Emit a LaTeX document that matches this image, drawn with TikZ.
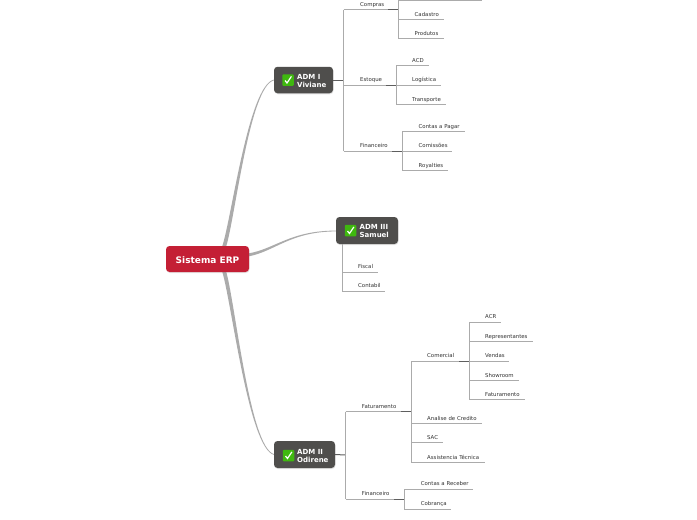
\documentclass[tikz,border=0pt]{standalone}
\usepackage{fontspec}
\setmainfont{DejaVu Sans}
\usetikzlibrary{shadows,calc}
\definecolor{rootred}{HTML}{C41F35}
\definecolor{admgray}{HTML}{4F4E4C}
\definecolor{branchgray}{HTML}{ABABAB}
\definecolor{linegray}{HTML}{ABABAB}
\definecolor{stemgray}{HTML}{5E5E5E}
\definecolor{labelgray}{HTML}{333333}
\definecolor{checkgreen}{HTML}{3FB80F}
\tikzset{
  x=1pt,y=-1pt,
  rootbox/.style={fill=rootred,rounded corners=3.5pt,minimum width=83pt,minimum height=26pt,inner sep=0pt,text=white,
    font=\bfseries\fontsize{9}{10}\selectfont,drop shadow={opacity=.2,shadow xshift=.5pt,shadow yshift=-1pt}},
  admbox/.style={fill=admgray,rounded corners=3.5pt,inner sep=0pt,drop shadow={opacity=.2,shadow xshift=.5pt,shadow yshift=-1pt}},
  admtext/.style={text=white,inner sep=0pt,anchor=west,align=left,font=\bfseries\fontsize{7}{8}\selectfont},
  lbl/.style={anchor=south west,inner sep=0pt,text height=4pt,text depth=2.9pt,align=left,text=labelgray,font=\fontsize{5.4}{6}\selectfont},
  uline/.style={draw=linegray,line width=1pt},
  stem/.style={draw=stemgray,line width=1pt},
  branch/.style={fill=branchgray},
  checkbox/.style={fill=checkgreen,rounded corners=1pt,minimum size=11.5pt,inner sep=0pt},
  checkmark/.style={draw=white,line width=1.2pt},
}
% name, text x, line y, line end x, text
\newcommand{\lab}[5]{\node[lbl,text width=\dimexpr #4pt-#2pt\relax] (#1) at (#2,#3) {#5};}
\begin{document}
\begin{tikzpicture}
\path[use as bounding box,fill=white] (0,0) rectangle (697,520);
\clip (0,0) rectangle (697,520);

% main branches
\coordinate (a1) at (274,80);
\coordinate (a3) at (336,231);
\coordinate (a2) at (274,454.5);
\fill[branch] (222,247) .. controls (231.4,220) and (248.5,84.6) .. ($(a1)+(0,-.4)$)
  -- ($(a1)+(0,.4)$) .. controls (249.7,85.6) and (234.8,220) .. (226,247) -- cycle;
\fill[branch] (248,253.5) .. controls (275,249) and (290,230.6) .. ($(a3)+(0,-.4)$)
  -- ($(a3)+(0,.4)$) .. controls (290,231.6) and (275,251.5) .. (248,256.5) -- cycle;
\fill[branch] (226,271) .. controls (234.8,300) and (249.7,447.4) .. ($(a2)+(0,-.4)$)
  -- ($(a2)+(0,.4)$) .. controls (248.5,448.4) and (231.4,300) .. (222,271) -- cycle;

\node[rootbox] (root) at (207.5,259) {\smash{\raisebox{-4.8pt}{Sistema ERP}}};
\node[admbox,minimum width=59pt,minimum height=26.5pt] (adm1) at (303.5,80) {};
\node[admbox,minimum width=62pt,minimum height=27pt] (adm3) at (367,230.5) {};
\node[admbox,minimum width=61pt,minimum height=27pt] (adm2) at (304.5,454.5) {};

\node[admtext] (t1) at (297,81) {ADM I\\Viviane};
\node[admtext] (t3) at (359.5,231) {ADM III\\Samuel};
\node[admtext] (t2) at (297,455.5) {ADM II\\Odirene};

\foreach \n/\cx/\cy in {c1/288/80,c3/350.5/230.5,c2/288.5/455.5}{
  \node[checkbox] (\n) at (\cx,\cy) {};
  \draw[checkmark] ($(\n)+(-3,.5)$) -- ($(\n)+(-1,3)$) -- ($(\n)+(3.4,-3.6)$);
}

% ADM I
\coordinate (s1) at (343.5,80);
\lab{compras}{360}{9.5}{398}{Compras}
\lab{estoque}{360}{85}{396}{Estoque}
\lab{fin1}{360}{151}{402}{Financeiro}
\coordinate (topleaf) at (482,0);
\lab{cadastro}{414.5}{19.2}{444}{Cadastro}
\lab{produtos}{414.5}{38.5}{444}{Produtos}
\lab{acd}{412}{65.5}{429}{ACD}
\lab{logistica}{412}{85}{441}{Logística}
\lab{transporte}{412}{104.5}{446}{Transporte}
\lab{contasp}{418.5}{131.5}{465}{Contas a Pagar}
\lab{comissoes}{418.5}{151}{452}{Comissões}
\lab{royalties}{418.5}{170.5}{448}{Royalties}

\draw[stem] (adm1.east) -- (s1);
\draw[uline] (compras.south -| s1) -- (fin1.south -| s1);
\draw[uline] (compras.south -| s1) -- (compras.south east);
\draw[uline] (estoque.south -| s1) -- (estoque.south east);
\draw[uline] (fin1.south -| s1) -- (fin1.south east);
\draw[uline] (topleaf -| compras.south east) -- (topleaf);
\foreach \a in {compras,estoque,fin1}{\draw[stem] ($(\a.south east)+(-10,0)$) -- (\a.south east);}
\draw[uline] (topleaf -| compras.south east) -- (produtos.south -| compras.south east);
\draw[uline] (cadastro.south -| compras.south east) -- (cadastro.south east);
\draw[uline] (produtos.south -| compras.south east) -- (produtos.south east);
\draw[uline] (acd.south -| estoque.south east) -- (transporte.south -| estoque.south east);
\foreach \a in {acd,logistica,transporte}{\draw[uline] (\a.south -| estoque.south east) -- (\a.south east);}
\draw[uline] (contasp.south -| fin1.south east) -- (royalties.south -| fin1.south east);
\foreach \a in {contasp,comissoes,royalties}{\draw[uline] (\a.south -| fin1.south east) -- (\a.south east);}

% ADM III
\lab{fiscal}{358}{272}{378}{Fiscal}
\lab{contabil}{358}{291}{385}{Contabil}
\coordinate (s3) at (342,244);
\draw[uline] (s3) -- (contabil.south -| s3);
\foreach \a in {fiscal,contabil}{\draw[uline] (\a.south -| s3) -- (\a.south east);}

% ADM II
\coordinate (s2) at (345.5,455);
\lab{fat}{361.7}{411.5}{411}{Faturamento}
\lab{fin2}{361.7}{499}{404}{Financeiro}
\lab{comercial}{427}{361}{469}{Comercial}
\lab{analise}{427}{423.5}{482}{Analise de Credito}
\lab{sac}{427}{442.5}{443}{SAC}
\lab{assist}{427}{462.5}{485}{Assistencia Técnica}
\lab{acr}{485}{322}{501}{ACR}
\lab{repr}{485}{341.5}{533}{Representantes}
\lab{vendas}{485}{361}{509}{Vendas}
\lab{showroom}{485}{380.5}{519}{Showroom}
\lab{fat2}{485}{399.5}{525}{Faturamento}
\lab{contasr}{420.7}{489}{473}{Contas a Receber}
\lab{cobranca}{420.7}{509}{451}{Cobrança}

\draw[stem] (adm2.east) -- (s2);
\draw[uline] (fat.south -| s2) -- (fin2.south -| s2);
\foreach \a in {fat,fin2}{\draw[uline] (\a.south -| s2) -- (\a.south east);}
\draw[uline] (comercial.south -| fat.south east) -- (assist.south -| fat.south east);
\foreach \a in {comercial,analise,sac,assist}{\draw[uline] (\a.south -| fat.south east) -- (\a.south east);}
\draw[uline] (acr.south -| comercial.south east) -- (fat2.south -| comercial.south east);
\foreach \a in {acr,repr,vendas,showroom,fat2}{\draw[uline] (\a.south -| comercial.south east) -- (\a.south east);}
\draw[uline] (contasr.south -| fin2.south east) -- (cobranca.south -| fin2.south east);
\foreach \a in {contasr,cobranca}{\draw[uline] (\a.south -| fin2.south east) -- (\a.south east);}
\foreach \a in {fat,fin2,comercial}{\draw[stem] ($(\a.south east)+(-10,0)$) -- (\a.south east);}
\end{tikzpicture}
\end{document}
